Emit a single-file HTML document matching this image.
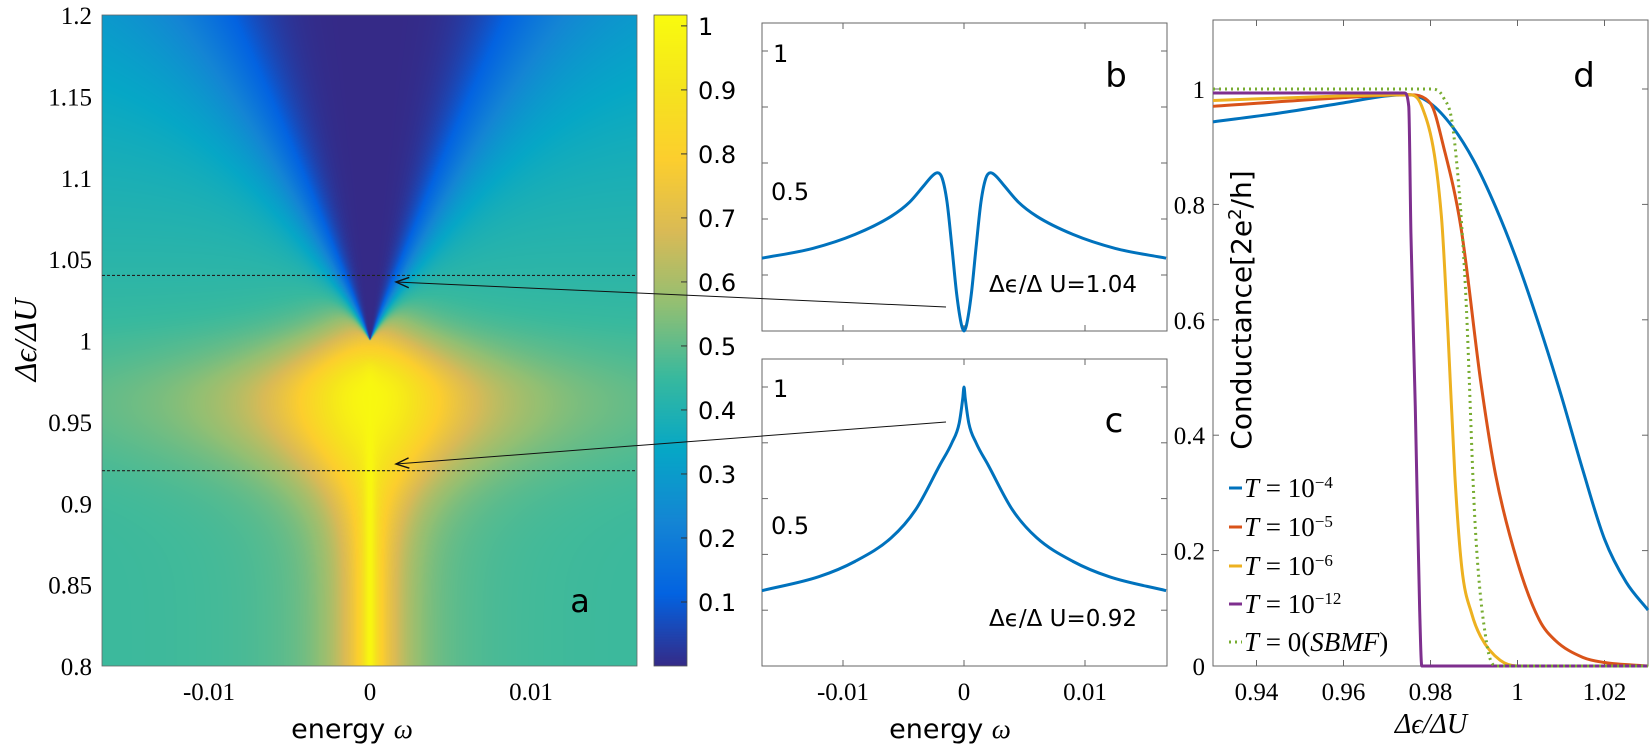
<!DOCTYPE html>
<html><head><meta charset="utf-8">
<style>
html,body{margin:0;padding:0;background:#fff;}
#wrap{position:relative;width:1650px;height:748px;overflow:hidden;background:#fff;}
canvas{position:absolute;}
svg{position:absolute;left:0;top:0;}
.serif{font-family:"Liberation Serif",serif;}
.sans{font-family:"DejaVu Sans","Liberation Sans",sans-serif;}
</style></head>
<body>
<div id="wrap">
<canvas id="heat" width="535" height="651" style="left:102px;top:15px"></canvas>
<canvas id="cbar" width="33" height="651" style="left:654px;top:15px"></canvas>
<svg id="svg" width="1650" height="748" xmlns="http://www.w3.org/2000/svg"></svg>
</div>
<script>
// ---------- data ----------
const omegaB = [-0.0167,-0.0125,-0.009,-0.006,-0.0045,-0.0033,-0.0026,-0.0022,-0.0018,-0.0014,-0.001,-0.0006,-0.0002,0,0.0002,0.0006,0.001,0.0014,0.0018,0.0022,0.0026,0.0033,0.0045,0.006,0.009,0.0125,0.0167];
const gB = [0.26,0.295,0.345,0.41,0.46,0.52,0.555,0.565,0.545,0.46,0.30,0.13,0.02,0.0,0.02,0.13,0.30,0.46,0.545,0.565,0.555,0.52,0.46,0.41,0.345,0.295,0.26];
const omegaC = [-0.0167,-0.012,-0.009,-0.006,-0.004,-0.002,-0.001,-0.0004,-0.0001,0,0.0001,0.0004,0.001,0.002,0.004,0.006,0.009,0.012,0.0167];
const gC = [0.27,0.32,0.375,0.46,0.56,0.72,0.80,0.87,0.96,1.0,0.96,0.87,0.80,0.72,0.56,0.46,0.375,0.32,0.27];
const xBlue = [0.93,0.945,0.96,0.97,0.975,0.98,0.985,0.99,0.995,1.0,1.005,1.01,1.015,1.02,1.025,1.03];
const yBlue = [0.943,0.958,0.976,0.988,0.99,0.975,0.935,0.875,0.795,0.70,0.59,0.47,0.34,0.22,0.145,0.097];
const xRed = [0.93,0.96,0.975,0.98,0.983,0.987,0.9916,0.995,1.0,1.005,1.0086,1.015,1.02,1.03];
const yRed = [0.97,0.985,0.99,0.975,0.90,0.76,0.49,0.33,0.18,0.08,0.045,0.015,0.006,0.0];
const xYel = [0.93,0.96,0.975,0.978,0.9825,0.984,0.9856,0.9872,0.9895,0.9916,0.996,1.0,1.03];
const yYel = [0.98,0.988,0.99,0.97,0.78,0.58,0.33,0.17,0.09,0.05,0.01,0.0,0.0];
const xPur = [0.93,0.96,0.974,0.975,0.9755,0.9765,0.9775,0.978,0.98,1.03];
const yPur = [0.993,0.993,0.993,0.97,0.75,0.45,0.10,0.0,0.0,0.0];
const xGrn = [0.93,0.96,0.98,0.983,0.9852,0.988,0.9903,0.9929,0.995,1.03];
const yGrn = [1.0,1.0,1.0,0.985,0.93,0.66,0.24,0.04,0.0,0.0];
// heatmap model parameters
const heatBackground = [0.45];
const haloAmp = [0.33,0.22,0.55];
const haloWidth = [0.0022,0.0034];
const dipCoef = [0.05];
// ticks
const aXTicks = [-0.01,0,0.01];
const aXLabels = ["-0.01","0","0.01"];
const aYTicks = [1.2,1.15,1.1,1.05,1,0.95,0.9,0.85,0.8];
const aYLabels = ["1.2","1.15","1.1","1.05","1","0.95","0.9","0.85","0.8"];
const cbTicks = [1,0.9,0.8,0.7,0.6,0.5,0.4,0.3,0.2,0.1];
const cbLabels = ["1","0.9","0.8","0.7","0.6","0.5","0.4","0.3","0.2","0.1"];
const bcYTicks = [0.2,0.4,0.6,0.8,1];
const dXTicks = [0.94,0.96,0.98,1,1.02];
const dXLabels = ["0.94","0.96","0.98","1","1.02"];
const dYTicks = [0,0.2,0.4,0.6,0.8,1];
const dYLabels = ["0","0.2","0.4","0.6","0.8","1"];

// ---------- scales ----------
const xA = w => 370 + w*16100;
const yA = r => 15 + (1.2-r)*651/0.4;
const xB = w => 964 + w*12100;
const yB = v => 331 - v*280;
const yC = v => 666 - v*279;
const xD = x => 1213 + (x-0.93)*4350;
const yD = v => 666 - v*577;

// ---------- parula ----------
const stops = [[0,[53,42,135]],[0.111,[3,99,225]],[0.222,[20,133,212]],[0.333,[6,167,198]],[0.444,[56,185,158]],[0.556,[146,191,115]],[0.667,[217,186,86]],[0.778,[252,206,46]],[0.889,[245,228,29]],[1,[249,251,14]]];
function parula(t){
  t=Math.max(0,Math.min(1,t));
  for(let i=1;i<stops.length;i++){
    if(t<=stops[i][0]){
      const a=stops[i-1],b=stops[i],f=(t-a[0])/(b[0]-a[0]);
      return [0,1,2].map(k=>Math.round(a[1][k]+(b[1][k]-a[1][k])*f));
    }
  }
  return stops[stops.length-1][1];
}
const CMAX=1.017;

function G(w,r){
  const bg=heatBackground[0]-0.6*Math.max(0,r-1.0);
  let A = r<0.965 ? haloAmp[0]+haloAmp[1]*Math.exp(-Math.pow((r-0.965)/0.05,2)) : haloAmp[2]*Math.exp(-Math.pow((r-0.965)/0.045,2));
  const Gm = haloWidth[0]+haloWidth[1]*Math.exp(-Math.pow((r-0.96)/0.05,2));
  let v = bg + A/(1+Math.pow(w/Gm,2));
  let nf = r<0.97?1:Math.max(0,1-(r-0.97)/0.02);
  const rest = Math.max(0,1-bg-A);
  v += rest*nf/(1+Math.pow(w/0.0004,2));
  if(r>1){
    const x=w/(dipCoef[0]*(r-1));
    const x4=x*x*x*x;
    v*= x4/(x4+1);
  }
  return v;
}

(function(){
  const c=document.getElementById('heat'),ctx=c.getContext('2d');
  const W=c.width,H=c.height,img=ctx.createImageData(W,H);
  for(let j=0;j<H;j++){
    const r=1.2-(j+0.5)*0.4/651;
    for(let i=0;i<W;i++){
      const w=(102+i+0.5-370)/16100;
      const col=parula(G(w,r)/CMAX);
      const k=(j*W+i)*4;
      img.data[k]=col[0];img.data[k+1]=col[1];img.data[k+2]=col[2];img.data[k+3]=255;
    }
  }
  ctx.putImageData(img,0,0);
  const cb=document.getElementById('cbar'),cx=cb.getContext('2d');
  for(let j=0;j<651;j++){
    const col=parula((651-j)/651);
    cx.fillStyle='rgb('+col.join(',')+')';
    cx.fillRect(0,j,33,1);
  }
})();

// ---------- svg ----------
const NS='http://www.w3.org/2000/svg';
const svg=document.getElementById('svg');
function el(tag,attrs,parent){
  const e=document.createElementNS(NS,tag);
  for(const k in attrs)e.setAttribute(k,attrs[k]);
  (parent||svg).appendChild(e);return e;
}
function txt(s,x,y,size,cls,anchor,extra){
  const t=el('text',Object.assign({x:x,y:y,'font-size':size,'text-anchor':anchor||'middle',class:cls,fill:'#000'},extra||{}));
  t.textContent=s;return t;
}
function smoothPath(xs,ys,fx,fy){
  const X=xs.map(fx),Y=ys.map(fy),n=X.length;
  const d=[],m=new Array(n);
  for(let i=0;i<n-1;i++)d.push((Y[i+1]-Y[i])/(X[i+1]-X[i]));
  m[0]=d[0];m[n-1]=d[n-2];
  for(let i=1;i<n-1;i++){m[i]=(d[i-1]*d[i]<=0)?0:(d[i-1]+d[i])/2;}
  for(let i=0;i<n-1;i++){
    if(d[i]===0){m[i]=0;m[i+1]=0;continue;}
    const a=m[i]/d[i],b=m[i+1]/d[i],s=a*a+b*b;
    if(s>9){const t=3/Math.sqrt(s);m[i]=t*a*d[i];m[i+1]=t*b*d[i];}
  }
  let p='M'+X[0].toFixed(2)+','+Y[0].toFixed(2);
  for(let i=0;i<n-1;i++){
    const h=(X[i+1]-X[i])/3;
    p+=' C'+(X[i]+h).toFixed(2)+','+(Y[i]+m[i]*h).toFixed(2)+' '+(X[i+1]-h).toFixed(2)+','+(Y[i+1]-m[i+1]*h).toFixed(2)+' '+X[i+1].toFixed(2)+','+Y[i+1].toFixed(2);
  }
  return p;
}

// ---- panel a ----
let e;
e=el('rect',{x:102,y:15,width:535,height:651,fill:'none',stroke:'#666','stroke-width':0.8});

aYTicks.forEach((v,i)=>{e=txt(aYLabels[i],92,yA(v)+9,25,'serif','end');});
aXTicks.forEach((v,i)=>{e=txt(aXLabels[i],xA(v),700,25,'serif','middle');});
e=txt('energy ',352,738,27,'sans','middle');
const om1=el('tspan',{'font-style':'italic','font-family':'Liberation Serif,serif'},e);om1.textContent='ω';

e=txt('Δϵ/ΔU',0,0,32,'serif','middle',{transform:'translate(36,340) rotate(-90)','font-style':'italic'});

e=txt('a',580,612,32,'sans','middle');
[1.04,0.92].forEach(r=>{
  e=el('line',{x1:102,x2:637,y1:yA(r),y2:yA(r),stroke:'#222','stroke-width':1.1,'stroke-dasharray':'3,2'});
  
});
e=el('rect',{x:654,y:15,width:33,height:651,fill:'none',stroke:'#555','stroke-width':0.8});

cbTicks.forEach((v,i)=>{
  const y=666-v/CMAX*651;
  el('line',{x1:681,x2:687,y1:y,y2:y,stroke:'#333','stroke-width':1});
  e=txt(cbLabels[i],698,y+9,24,'sans','start');
});

// ---- panels b & c ----
e=el('rect',{x:762,y:23,width:405,height:308,fill:'#fff',stroke:'#666','stroke-width':1});

e=el('rect',{x:762,y:359,width:405,height:307,fill:'#fff',stroke:'#666','stroke-width':1});

bcYTicks.forEach(v=>{
  [yB(v),yC(v)].forEach(y=>{
    el('line',{x1:762,x2:768,y1:y,y2:y,stroke:'#666'});
    el('line',{x1:1161,x2:1167,y1:y,y2:y,stroke:'#666'});
  });
});
aXTicks.forEach(v=>{
  const x=xB(v);
  el('line',{x1:x,x2:x,y1:331,y2:325,stroke:'#666'});
  el('line',{x1:x,x2:x,y1:23,y2:29,stroke:'#666'});
  el('line',{x1:x,x2:x,y1:359,y2:365,stroke:'#666'});
  el('line',{x1:x,x2:x,y1:666,y2:660,stroke:'#666'});
});
aXTicks.forEach((v,i)=>{e=txt(aXLabels[i],xB(v),700,25,'serif','middle');});
e=txt('energy ',950,738,27,'sans','middle');
const om2=el('tspan',{'font-style':'italic','font-family':'Liberation Serif,serif'},e);om2.textContent='ω';

e=txt('1',773,62,24,'sans','start');
e=txt('0.5',771,200,24,'sans','start');
e=txt('b',1116,87,34,'sans','middle');
e=txt('Δϵ/Δ U=1.04',1063,292,23,'sans','middle');
e=txt('1',773,397,24,'sans','start');
e=txt('0.5',771,534,24,'sans','start');
e=txt('c',1114,432,34,'sans','middle');
e=txt('Δϵ/Δ U=0.92',1063,626,23,'sans','middle');
e=el('path',{d:smoothPath(omegaB,gB,xB,yB),fill:'none',stroke:'#0072BD','stroke-width':3,'stroke-linejoin':'round'});

e=el('path',{d:smoothPath(omegaC,gC,xB,yC),fill:'none',stroke:'#0072BD','stroke-width':3,'stroke-linejoin':'round'});


function arrow(x1,y1,x2,y2,name){
  const g=el('g',{});
  
  el('line',{x1:x1,y1:y1,x2:x2,y2:y2,stroke:'#111','stroke-width':1},g);
  const ang=Math.atan2(y1-y2,x1-x2),L=14,sp=0.38;
  const p1=[x2+L*Math.cos(ang+sp),y2+L*Math.sin(ang+sp)],p2=[x2+L*Math.cos(ang-sp),y2+L*Math.sin(ang-sp)];
  el('polyline',{points:p1.join(',')+' '+x2+','+y2+' '+p2.join(','),fill:'none',stroke:'#111','stroke-width':1.4},g);
}
arrow(946,307,396,282,'arrow-b');
arrow(946,422,396,464,'arrow-c');

// ---- panel d ----
e=el('rect',{x:1213,y:20,width:435,height:646,fill:'none',stroke:'#666','stroke-width':1});

dYTicks.forEach((v,i)=>{
  const y=yD(v);
  el('line',{x1:1213,x2:1219,y1:y,y2:y,stroke:'#666'});
  el('line',{x1:1642,x2:1648,y1:y,y2:y,stroke:'#666'});
  e=txt(dYLabels[i],1205,y+9,25,'serif','end');
});
dXTicks.forEach((v,i)=>{
  const x=xD(v);
  el('line',{x1:x,x2:x,y1:666,y2:660,stroke:'#666'});
  el('line',{x1:x,x2:x,y1:20,y2:26,stroke:'#666'});
  e=txt(dXLabels[i],x,700,25,'serif','middle');
});
e=txt('Δϵ/ΔU',1431,733,28,'serif','middle',{'font-style':'italic'});

e=txt('d',1584,87,34,'sans','middle');
e=el('text',{x:0,y:0,'font-size':28,'text-anchor':'middle',class:'sans',fill:'#000',transform:'translate(1251,310) rotate(-90)'});
e.textContent='Conductance[2e';
const sup=el('tspan',{'baseline-shift':'super','font-size':18},e);sup.textContent='2';
const rest=el('tspan',{},e);rest.textContent='/h]';


const series=[[xBlue,yBlue,'#0072BD','','line-t-1e-4'],[xRed,yRed,'#D95319','','line-t-1e-5'],[xYel,yYel,'#EDB120','','line-t-1e-6'],[xPur,yPur,'#7E2F8E','','line-t-1e-12'],[xGrn,yGrn,'#77AC30','2,4','line-t-0-sbmf']];
series.forEach(s=>{
  e=el('path',{d:smoothPath(s[0],s[1],xD,yD),fill:'none',stroke:s[2],'stroke-width':3,'stroke-dasharray':s[3]});
  
});
const legY=[488,527,566,604,642];
const legSup=['−4','−5','−6','−12',null];
series.forEach((s,i)=>{
  const g=el('g',{});
  
  el('line',{x1:1229,x2:1242,y1:legY[i],y2:legY[i],stroke:s[2],'stroke-width':3,'stroke-dasharray':s[3]},g);
  const t=el('text',{x:1244,y:legY[i]+9,'font-size':27,class:'serif',fill:'#000'},g);
  const a=el('tspan',{'font-style':'italic'},t);a.textContent='T';
  const b=el('tspan',{},t);
  if(legSup[i]){b.textContent=' = 10';const c=el('tspan',{'baseline-shift':'super','font-size':17},t);c.textContent=legSup[i];}
  else{b.textContent=' = 0(';const c=el('tspan',{'font-style':'italic'},t);c.textContent='SBMF';const d=el('tspan',{},t);d.textContent=')';}
});
</script>
</body></html>
